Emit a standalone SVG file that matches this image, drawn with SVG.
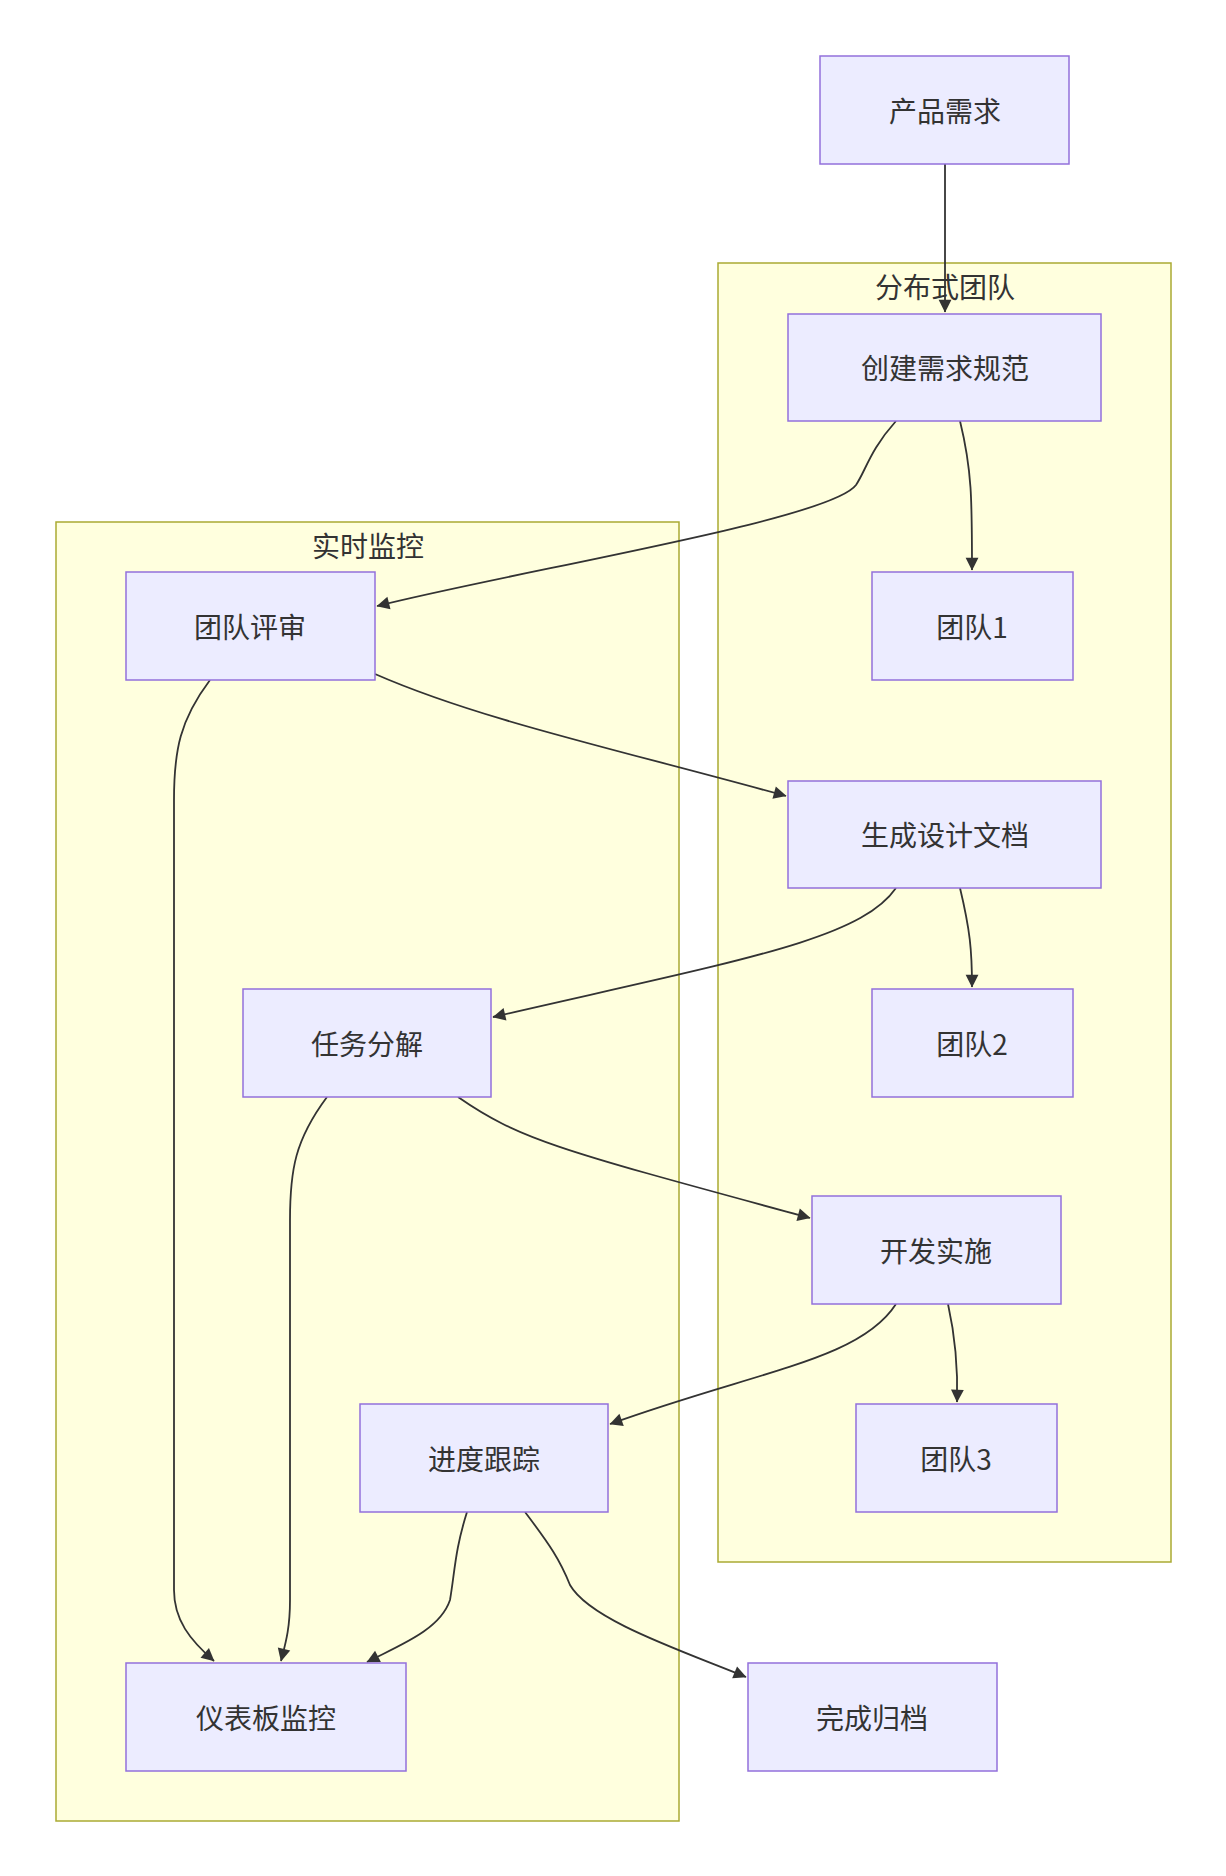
<svg xmlns="http://www.w3.org/2000/svg" width="1226" height="1876" viewBox="0 0 1226 1876">
<style>
.cl{fill:#ffffde;stroke:#aaaa33;stroke-width:1.5}
.n rect{fill:#ececff;stroke:#9370db;stroke-width:1.5}
text{font-family:"Noto Sans CJK SC","Liberation Sans",sans-serif;font-size:28px;fill:#333;text-anchor:middle;dominant-baseline:central}
.e path{fill:none;stroke:#333;stroke-width:1.8;marker-end:url(#a)}
</style>
<defs><marker id="a" viewBox="0 0 10 10" refX="9" refY="5" markerWidth="8" markerHeight="8" orient="auto-start-reverse" markerUnits="userSpaceOnUse" style="overflow:visible"><path d="M0,0L10,5L0,10z" fill="#333" transform="scale(1.6) translate(-4,-1.9)"/></marker></defs>
<g id="sg1"><rect class="cl" x="718" y="263" width="453" height="1299"/><text x="945" y="286">分布式团队</text></g>
<g id="sg2"><rect class="cl" x="56" y="522" width="623" height="1299"/><text x="368" y="545">实时监控</text></g>
<g class="e" id="edges">
<path d="M945,164 L945,312"/>
<path d="M896,421 C870,450 866,470 856,485 C830,520 520,570 377,606"/>
<path d="M960,421 C972,470 972,500 972,570"/>
<path d="M375,674 C480,720 620,750 786,796"/>
<path d="M210,680 C180,720 174,750 174,800 L174,1590 C174,1620 190,1640 214,1661"/>
<path d="M896,888 C860,940 740,960 493,1017"/>
<path d="M960,888 C970,930 972,950 972,987"/>
<path d="M458,1097 C520,1140 560,1150 810,1218"/>
<path d="M327,1097 C295,1140 290,1170 290,1220 L290,1600 C290,1630 285,1645 281,1661"/>
<path d="M896,1304 C860,1360 760,1370 610,1424"/>
<path d="M948,1304 C956,1340 958,1370 957,1402"/>
<path d="M467,1512 C455,1550 455,1570 450,1600 C440,1630 400,1645 367,1662"/>
<path d="M525,1512 C550,1545 560,1560 570,1585 C590,1620 680,1650 746,1677"/>
</g>
<g class="n" id="n1"><rect x="820" y="56" width="249" height="108"/><text x="945" y="110">产品需求</text></g>
<g class="n" id="n2"><rect x="788" y="314" width="313" height="107"/><text x="945" y="367">创建需求规范</text></g>
<g class="n" id="n3"><rect x="872" y="572" width="201" height="108"/><text x="972" y="626">团队1</text></g>
<g class="n" id="n4"><rect x="126" y="572" width="249" height="108"/><text x="250" y="626">团队评审</text></g>
<g class="n" id="n5"><rect x="788" y="781" width="313" height="107"/><text x="945" y="834">生成设计文档</text></g>
<g class="n" id="n6"><rect x="243" y="989" width="248" height="108"/><text x="367" y="1043">任务分解</text></g>
<g class="n" id="n7"><rect x="872" y="989" width="201" height="108"/><text x="972" y="1043">团队2</text></g>
<g class="n" id="n8"><rect x="812" y="1196" width="249" height="108"/><text x="936" y="1250">开发实施</text></g>
<g class="n" id="n9"><rect x="856" y="1404" width="201" height="108"/><text x="956" y="1458">团队3</text></g>
<g class="n" id="n10"><rect x="360" y="1404" width="248" height="108"/><text x="484" y="1458">进度跟踪</text></g>
<g class="n" id="n11"><rect x="126" y="1663" width="280" height="108"/><text x="266" y="1717">仪表板监控</text></g>
<g class="n" id="n12"><rect x="748" y="1663" width="249" height="108"/><text x="872" y="1717">完成归档</text></g>
</svg>
